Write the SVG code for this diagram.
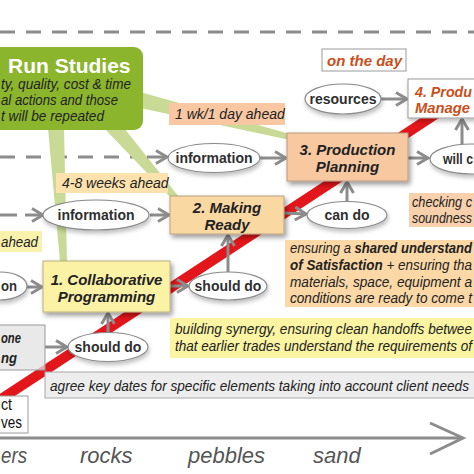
<svg xmlns="http://www.w3.org/2000/svg" width="474" height="474" viewBox="0 0 474 474">
<defs>
<style>
text{font-family:"Liberation Sans",Arial,sans-serif}
.node{font-weight:bold;font-style:italic;font-size:15px;fill:#222;text-anchor:middle}
.ell{fill:#fff;stroke:#8a8a8a;stroke-width:1.2}
.el{font-weight:bold;font-size:14px;fill:#2f2f2f;text-anchor:middle}
.it{font-style:italic;font-size:14px;fill:#222}
.b{font-weight:bold}
.st{text-anchor:start}
.conn{stroke:#8c8c8c;stroke-width:3;fill:none}
.dash{stroke:#8c8c8c;stroke-width:3;fill:none;stroke-dasharray:15 11}
.green{fill:#c8da95}
.axis{font-style:italic;font-size:22px;fill:#555}
.orange{font-weight:bold;font-style:italic;font-size:15px;fill:#c9501c}
</style>
<filter id="sh" x="-20%" y="-30%" width="150%" height="180%"><feDropShadow dx="2" dy="3" stdDeviation="2.5" flood-color="#000" flood-opacity="0.4"/></filter>
<filter id="shs" x="-20%" y="-30%" width="150%" height="180%"><feDropShadow dx="1" dy="3" stdDeviation="2" flood-color="#000" flood-opacity="0.25"/></filter>
<marker id="ah" markerUnits="userSpaceOnUse" viewBox="0 0 14 16" markerWidth="14" markerHeight="16" refX="12" refY="8" orient="auto"><path d="M1,1.5 L12,8 L1,14.5" fill="none" stroke="#8c8c8c" stroke-width="3"/></marker>
</defs>
<rect width="474" height="474" fill="#fff"/>

<g id="levels">
<line class="dash" x1="0" y1="32" x2="474" y2="32"/>
<line class="dash" x1="0" y1="157" x2="147" y2="157"/>
<line class="conn" x1="0" y1="215" x2="17" y2="215"/>
</g>

<g id="study-links">
<polygon class="green" points="140,92 290,134 290,140 140,108"/>
<polygon class="green" points="104,128 124,128 179,197 170,197"/>
<polygon class="green" points="48,128 64,128 67,262 60,262"/>
</g>

<g id="flow">
<line x1="-5" y1="403" x2="442" y2="110" stroke="#e3161b" stroke-width="10"/>
</g>

<g id="connectors">
<path class="conn" d="M147,157 L167,157" marker-end="url(#ah)"/>
<path class="conn" d="M25,215 L43,215" marker-end="url(#ah)"/>
<path class="conn" d="M260,158 L286,158" marker-end="url(#ah)"/>
<path class="conn" d="M150,215 L169,215" marker-end="url(#ah)"/>
<path class="conn" d="M381,99 L407,99" marker-end="url(#ah)"/>
<path class="conn" d="M408,158 L428,158" marker-end="url(#ah)"/>
<path class="conn" d="M462,145 L462,119" marker-end="url(#ah)"/>
<path class="conn" d="M347,202 L347,182" marker-end="url(#ah)"/>
<path class="conn" d="M284,213 L306,214" marker-end="url(#ah)"/>
<path class="conn" d="M27,287 L42,287" marker-end="url(#ah)"/>
<path class="conn" d="M170,286 L188,286" marker-end="url(#ah)"/>
<path class="conn" d="M228,272 L228,235" marker-end="url(#ah)"/>
<path class="conn" d="M45,347 L67,347" marker-end="url(#ah)"/>
<path class="conn" d="M108,333 L108,313" marker-end="url(#ah)"/>
<path class="conn" d="M0,438 L462,438"/>
<path class="conn" d="M430,423 L463,438 L430,454"/>
</g>

<g id="run-studies">
<rect x="-12" y="47" width="155" height="83" rx="9" fill="#8cb52e"/>
<text x="8" y="73" font-size="21" font-weight="bold" fill="#fff">Run Studies</text>
<text class="it" x="1" y="89" textLength="130" lengthAdjust="spacingAndGlyphs">ty, quality, cost &amp; time</text>
<text class="it" x="1" y="105" textLength="117" lengthAdjust="spacingAndGlyphs">al actions and those</text>
<text class="it" x="1" y="121" textLength="103" lengthAdjust="spacingAndGlyphs">t will be repeated</text>
</g>

<g id="label-1wk">
<rect x="169" y="103" width="116" height="22" fill="#f9c8a3"/>
<text class="it" x="175" y="119" font-size="13.5">1 wk/1 day ahead</text>
</g>
<g id="label-48wk">
<rect x="56" y="173" width="112" height="20" fill="#fde2ae"/>
<text class="it" x="62" y="188" font-size="13.5">4-8 weeks ahead</text>
</g>
<g id="label-ahead">
<rect x="-1" y="231" width="43" height="21" fill="#f9f2ad"/>
<text class="it" x="1" y="247" textLength="37" lengthAdjust="spacingAndGlyphs">ahead</text>
</g>
<g id="label-onday">
<rect x="322" y="49" width="84" height="22" fill="#fff" stroke="#9a9a9a"/>
<text class="orange" x="327" y="66">on the day</text>
</g>

<g id="info-1">
<ellipse class="ell" cx="214" cy="158" rx="46" ry="14.5" filter="url(#shs)"/>
<text class="el" x="214" y="163" font-size="14.5">information</text>
</g>
<g id="resources">
<ellipse class="ell" cx="343" cy="99" rx="38" ry="15" filter="url(#shs)"/>
<text class="el" x="343" y="104">resources</text>
</g>
<g id="info-2">
<ellipse class="ell" cx="96" cy="215" rx="53" ry="15" filter="url(#shs)"/>
<text class="el" x="96" y="220" font-size="14.5">information</text>
</g>
<g id="can-do">
<ellipse class="ell" cx="347" cy="215" rx="40" ry="13.5" filter="url(#shs)"/>
<text class="el" x="347" y="220">can do</text>
</g>
<g id="should-do-1">
<ellipse class="ell" cx="228" cy="286" rx="39" ry="14" filter="url(#shs)"/>
<text class="el" x="228" y="291">should do</text>
</g>
<g id="should-do-2">
<ellipse class="ell" cx="108" cy="347" rx="40" ry="14.5" filter="url(#shs)"/>
<text class="el" x="108" y="352">should do</text>
</g>
<g id="on-ellipse">
<ellipse class="ell" cx="0" cy="286" rx="27" ry="14" filter="url(#shs)"/>
<text class="el st" x="1" y="291" textLength="16" lengthAdjust="spacingAndGlyphs">on</text>
</g>
<g id="will-c">
<ellipse class="ell" cx="472" cy="159" rx="42" ry="15" filter="url(#shs)"/>
<text class="el st" x="443" y="164" textLength="30" lengthAdjust="spacingAndGlyphs">will c</text>
</g>

<g id="production-planning">
<rect x="287" y="133" width="121" height="48" fill="#f8c8a0" stroke="#b89a80" filter="url(#sh)"/>
<text class="node" x="347.5" y="155">3. Production</text>
<text class="node" x="347.5" y="172">Planning</text>
</g>
<g id="production-management">
<rect x="408" y="79" width="80" height="39" fill="#fff" stroke="#9a9a9a" filter="url(#shs)"/>
<text class="orange" x="415" y="97" textLength="57" lengthAdjust="spacingAndGlyphs">4. Produ</text>
<text class="orange" x="415" y="113" textLength="55" lengthAdjust="spacingAndGlyphs">Manage</text>
</g>
<g id="making-ready">
<rect x="170" y="196" width="114" height="38" fill="#fad8a2" stroke="#b8a080" filter="url(#sh)"/>
<text class="node" x="227" y="213">2. Making</text>
<text class="node" x="227" y="230">Ready</text>
</g>
<g id="collaborative-programming">
<rect x="43" y="261" width="127" height="51" fill="#fbf2a6" stroke="#b8b080" filter="url(#sh)"/>
<text class="node" x="106.5" y="285">1. Collaborative</text>
<text class="node" x="106.5" y="302">Programming</text>
</g>

<g id="checking">
<rect x="409" y="193" width="70" height="34" fill="#f8d0ab"/>
<text class="it" x="412" y="207" textLength="60" lengthAdjust="spacingAndGlyphs">checking c</text>
<text class="it" x="412" y="223" textLength="60" lengthAdjust="spacingAndGlyphs">soundness</text>
</g>
<g id="ensuring">
<rect x="285" y="240" width="195" height="67" fill="#fbd8a6"/>
<text class="it" x="290" y="253" textLength="182" lengthAdjust="spacingAndGlyphs">ensuring a <tspan class="b">shared understand</tspan></text>
<text class="it" x="290" y="270" textLength="182" lengthAdjust="spacingAndGlyphs"><tspan class="b">of Satisfaction</tspan> + ensuring tha</text>
<text class="it" x="290" y="287" textLength="182" lengthAdjust="spacingAndGlyphs">materials, space, equipment a</text>
<text class="it" x="290" y="303" textLength="182" lengthAdjust="spacingAndGlyphs">conditions are ready to come t</text>
</g>
<g id="building-synergy">
<rect x="170" y="318" width="310" height="40" fill="#faf4a3"/>
<text class="it" x="175" y="334" textLength="297" lengthAdjust="spacingAndGlyphs">building synergy, ensuring clean handoffs betwee</text>
<text class="it" x="175" y="351" textLength="297" lengthAdjust="spacingAndGlyphs">that earlier trades understand the requirements of</text>
</g>
<g id="milestone">
<rect x="-2" y="325" width="47" height="45" fill="#e2e2e2" fill-opacity="0.75" stroke="#9a9a9a"/>
<text class="node st" x="1" y="343" textLength="20" lengthAdjust="spacingAndGlyphs">one</text>
<text class="node st" x="1" y="363" textLength="16" lengthAdjust="spacingAndGlyphs">ng</text>
</g>
<g id="agree">
<rect x="45" y="372" width="435" height="26" fill="#ededed" stroke="#a8a8a8"/>
<text class="it" x="50" y="391" font-size="13.5" textLength="419" lengthAdjust="spacingAndGlyphs">agree key dates for specific elements taking into account client needs</text>
</g>
<g id="objectives">
<rect x="-2" y="396" width="30" height="37" fill="#fff" stroke="#9a9a9a"/>
<text x="1" y="410" font-size="17" fill="#111" textLength="11" lengthAdjust="spacingAndGlyphs">ct</text>
<text x="1" y="428" font-size="17" fill="#111" textLength="21" lengthAdjust="spacingAndGlyphs">ves</text>
</g>

<g id="axis-labels">
<text class="axis" x="1" y="463" textLength="26" lengthAdjust="spacingAndGlyphs">ers</text>
<text class="axis" x="80" y="463">rocks</text>
<text class="axis" x="188" y="463">pebbles</text>
<text class="axis" x="313" y="463">sand</text>
</g>
</svg>
